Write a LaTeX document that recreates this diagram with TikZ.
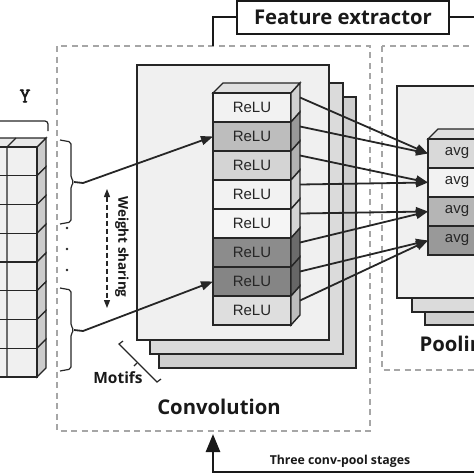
\documentclass[tikz,border=0pt]{standalone}
\usepackage{fontspec}
\setmainfont{Open Sans}
\newfontfamily\cellfont{Liberation Sans}
\newfontfamily\ymono[FakeBold=2.5]{Latin Modern Mono}
\usetikzlibrary{arrows.meta,positioning}

\tikzset{
  edge/.style={draw=black!85,line width=1.4pt},
  frame/.style={draw=black!35,line width=1.3pt,dash pattern=on 6pt off 4.5pt},
  panel/.style={edge,fill=#1},
  cell/.style={edge,inner sep=0pt,outer sep=0pt,minimum height=29pt,
    font=\cellfont\fontsize{15}{15}\selectfont,text=black!85},
  link/.style={line width=1.8pt,draw=black!85,-{Triangle[length=12pt,width=9pt]}},
  title/.style={font=\bfseries\fontsize{20.3}{20.3}\selectfont,text=black!90},
}

\begin{document}
\begin{tikzpicture}[x=1pt,y=-1pt]
  \useasboundingbox (0,0) rectangle (474,474);
  \clip (0,0) rectangle (474,474);

  % dashed stage frames
  \draw[frame] (57,46) rectangle (370,431);
  \draw[frame] (382,46) rectangle (490,370);

  % input Y
  \fill[black!6] (-60,147) rectangle (37,377);
  \foreach \k in {0,...,7}
    \filldraw[edge,fill=black!20] (37,147+28.75*\k) -- ++(9,-9) -- ++(0,28.75) -- ++(-9,9) -- cycle;
  \filldraw[edge,fill=black!9] (-60,147) -- ++(9,-9) -- (46,138) -- (37,147) -- cycle;
  \draw[edge] (-60,147) rectangle (37,377);
  \foreach \k in {1,...,7}
    \draw[edge] (-60,147+28.75*\k) -- (37,147+28.75*\k);
  \foreach \x in {-23,7}
    \draw[edge] (\x,377) -- (\x,147) -- ++(9,-9);
  \draw[edge,line width=1.2pt,rounded corners=3pt] (-10,121) -- (48,121) -- (48,131);
  \node[font=\ymono\fontsize{21}{21}\selectfont,text=black!90] (y) at (25,96) {Y};

  % motif brackets
  \draw[edge,line width=1.2pt,rounded corners=2pt] (60,140) -- (71,142) -- (71,178) -- (74,182) -- (71,186) -- (71,222) -- (60,224);
  \draw[edge,line width=1.2pt,rounded corners=2pt] (60,288) -- (71,290) -- (71,326) -- (74,330) -- (71,334) -- (71,369) -- (60,371);
  \coordinate (m1) at (74,182);
  \coordinate (m2) at (74,330);
  \foreach \y in {228,249,270}
    \fill[black!85] (67,\y) circle (1.4);

  % convolution maps
  \filldraw[panel=black!19] (159,97) rectangle (356,368);
  \filldraw[panel=black!14] (150,83) rectangle (343,354);
  \filldraw[panel=black!6] (137,65) rectangle (329,340);
  \filldraw[edge,fill=black!12] (213,93) -- ++(10,-10) -- (300,83) -- (291,93) -- cycle;
  \foreach \i/\p/\q in {1/5/18,2/26/40,3/17/30,4/5/18,5/4/17,6/45/58,7/48/60,8/13/26} {
    \node[cell,fill=black!\p,minimum width=78pt] (relu\i) at (252,78.5+29*\i) {ReLU};
    \filldraw[edge,fill=black!\q] (relu\i.north east) -- ++(9,-10) -- ++(0,29) -- (relu\i.south east) -- cycle;
    \coordinate (r\i) at ([shift={(9,-10)}]relu\i.east);
  }

  % pooling maps
  \filldraw[panel=black!19] (425,113) rectangle (520,325);
  \filldraw[panel=black!14] (412,100) rectangle (520,312);
  \filldraw[panel=black!6] (397,86) rectangle (520,298);
  \filldraw[edge,fill=black!12] (428,139) -- ++(10,-10) -- (500,129) -- (486,139) -- cycle;
  \foreach \i/\p in {1/15,2/5,3/29,4/40}
    \node[cell,fill=black!\p,minimum width=58pt] (avg\i) at (457,124.5+29*\i) {avg};

  % connections
  \draw[link] (m1) -- ++(9,1) -- (relu2.west);
  \draw[link] (m2) -- ++(9,1) -- (relu7.west);
  \foreach \i/\j in {1/1,2/1,3/2,4/2,5/3,6/3,7/4,8/4}
    \draw[link] (r\i) -- (avg\j.west);

  \draw[line width=1.2pt,black!85,dash pattern=on 5pt off 3pt,
    {Triangle[length=8pt,width=6pt]}-{Triangle[length=8pt,width=6pt]}] (107,189) -- (107,308);
  \node[rotate=-90,font=\bfseries\fontsize{13.5}{13.5}\selectfont,text=black!90] (ws) at (122,247) {Weight sharing};

  \draw[edge,line width=1.2pt] (123,341) -- (119,344) -- (157,382) -- (161,379);
  \draw[edge,line width=1.2pt] (137,363) -- (134,366);
  \node[font=\bfseries\fontsize{15.5}{15.5}\selectfont,text=black!90] (motifs) at (118,378) {Motifs};

  % labels
  \node[title] (conv) at (219,407) {Convolution};
  \node[title,anchor=west] (pool) at (416,346) {Pooling};

  \node[draw=black!90,line width=2pt,minimum width=212pt,minimum height=33pt,title] (fe) at (343,17) {Feature extractor};
  \draw[line width=2pt,black!90] (213,46) |- (fe.west);
  \draw[line width=2pt,black!90] (fe.east) -- (480,17);

  \draw[line width=2.6pt,black!90,-{Triangle[length=18pt,width=14pt]}] (480,472) -| (213,434);
  \node[font=\bfseries\fontsize{12.3}{12.3}\selectfont,text=black!90] (stages) at (340,461) {Three conv-pool stages};
\end{tikzpicture}
\end{document}
